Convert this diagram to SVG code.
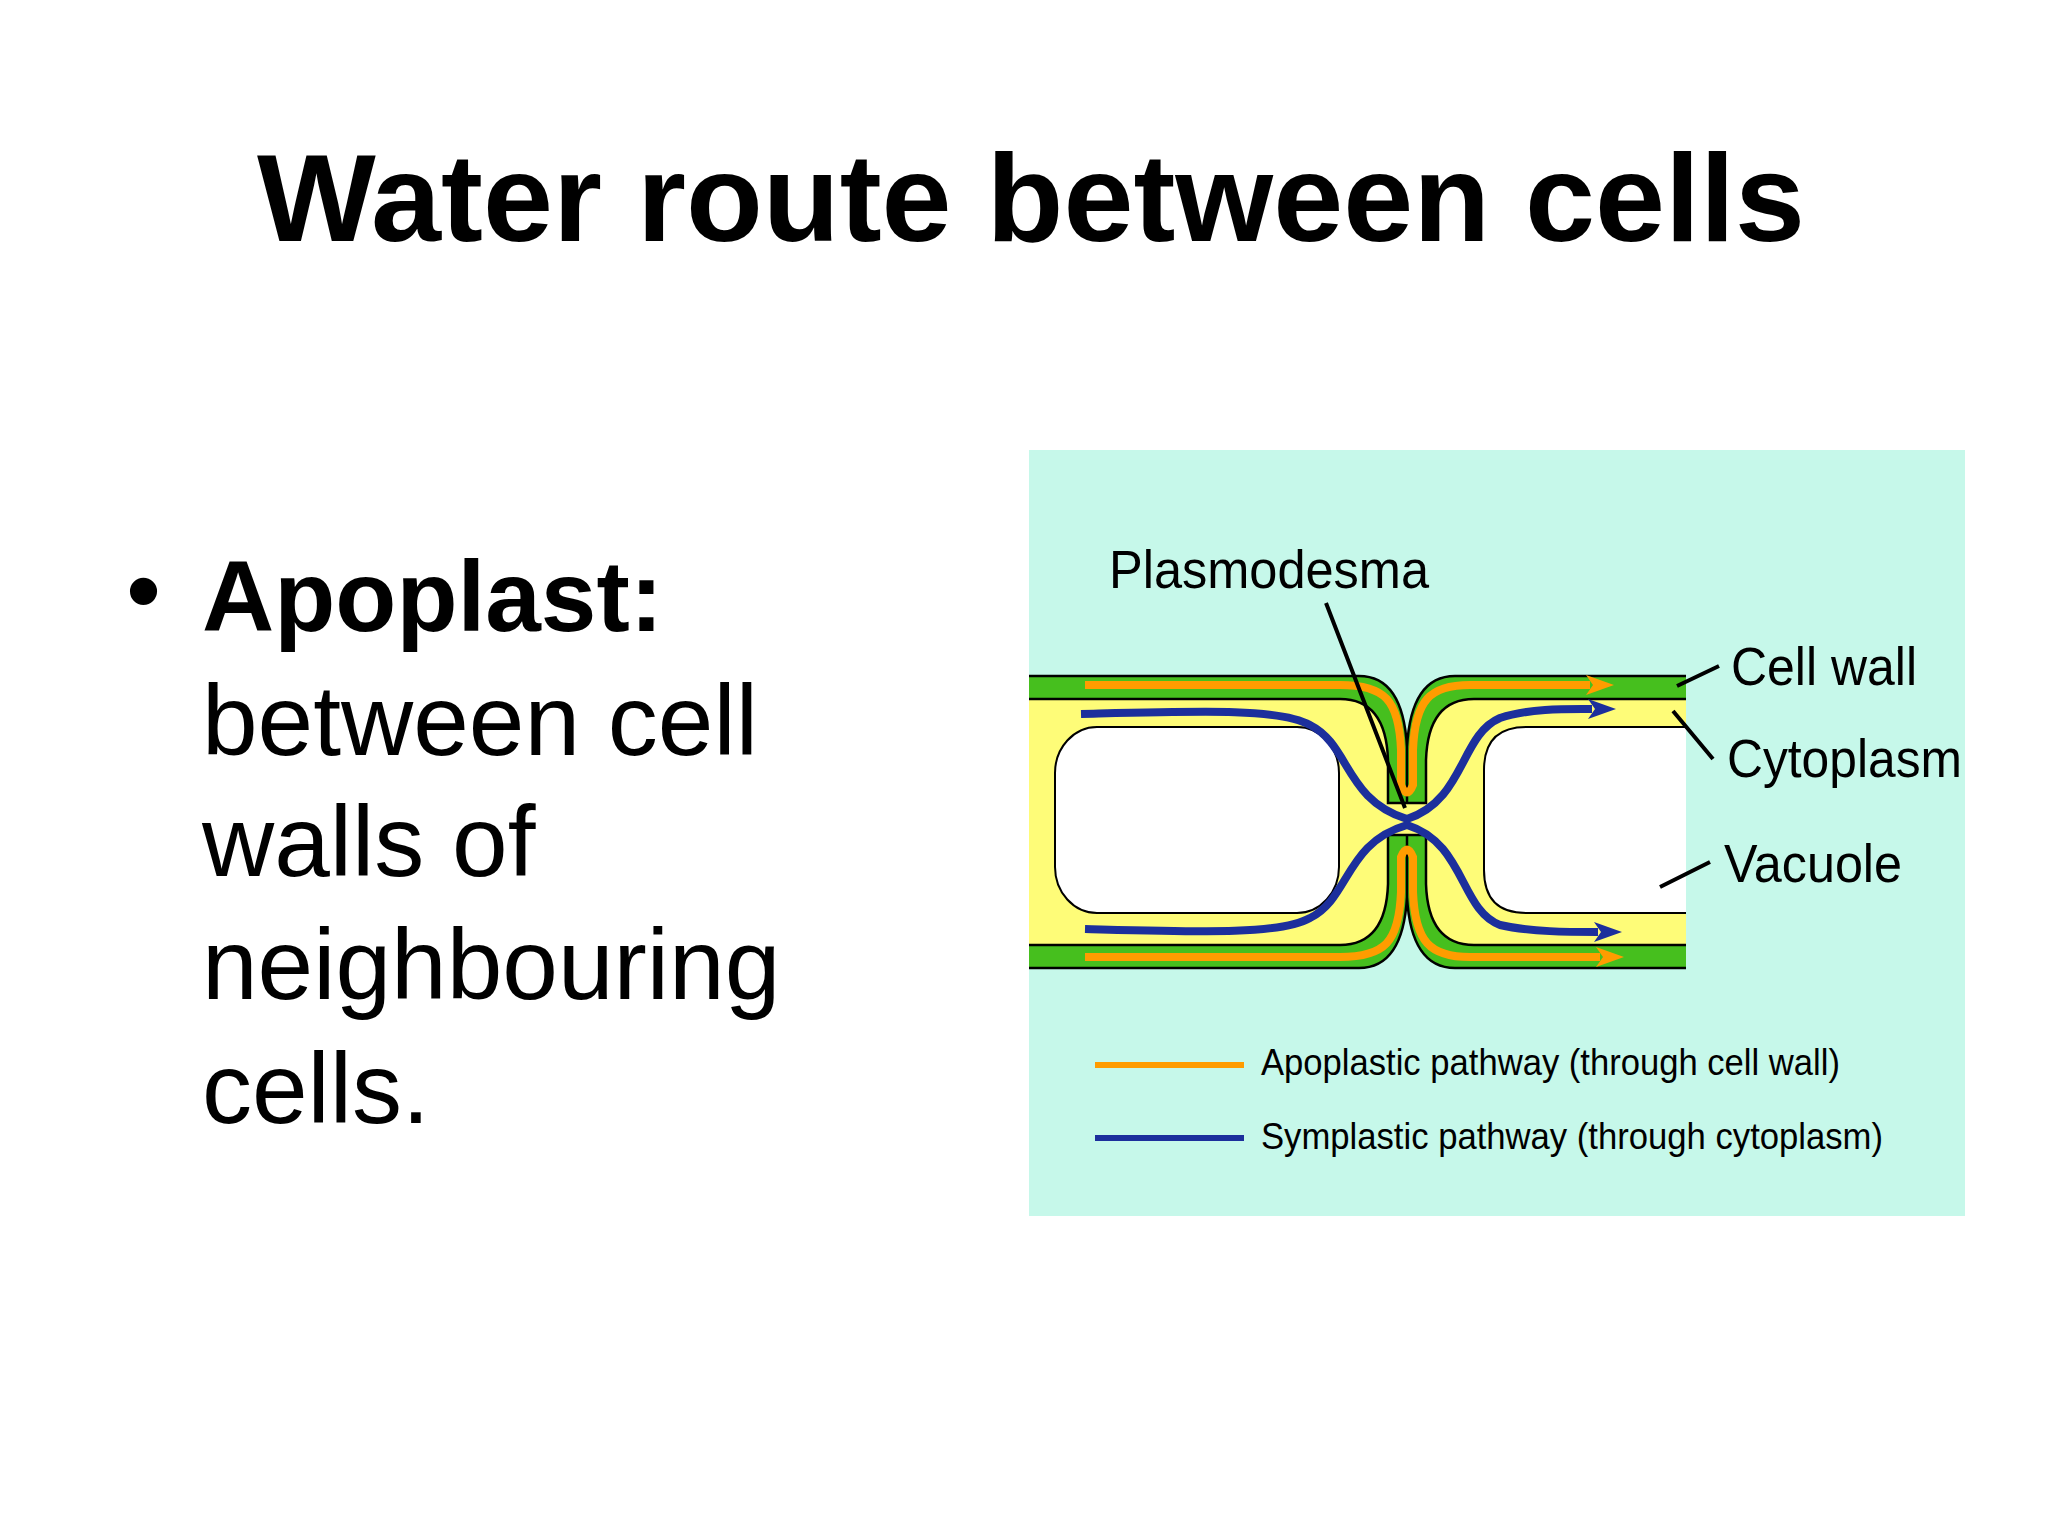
<svg xmlns="http://www.w3.org/2000/svg" width="2048" height="1536" viewBox="0 0 2048 1536">
<style>
.t{font-family:"Liberation Sans",Arial,sans-serif;fill:#000}
.ol{fill:none;stroke:#000;stroke-width:2.5}
.lab{fill:none;stroke:#000;stroke-width:4}
.or{fill:none;stroke:#ff9c00;stroke-width:8}
.bl{fill:none;stroke:#1c2f9c;stroke-width:8}
</style>
<defs>
<marker id="ao" markerUnits="userSpaceOnUse" markerWidth="30" markerHeight="30" refX="4" refY="12" orient="auto" viewBox="0 0 30 24"><path d="M0,2 L28,12 L0,22 L7,12 Z" fill="#ff9c00"/></marker>
<marker id="ab" markerUnits="userSpaceOnUse" markerWidth="30" markerHeight="30" refX="4" refY="12" orient="auto" viewBox="0 0 30 24"><path d="M0,2 L28,12 L0,22 L7,12 Z" fill="#1c2f9c"/></marker>
</defs>
<rect width="2048" height="1536" fill="#fff"/>
<text class="t" x="257" y="241" font-size="125" font-weight="bold" textLength="1548" lengthAdjust="spacingAndGlyphs">Water route between cells</text>
<g id="bullet">
<text class="t" x="126" y="625" font-size="100">•</text>
<text class="t" x="202" y="631" font-size="100" font-weight="bold">Apoplast:</text>
<text class="t" x="202" y="755" font-size="100">between cell</text>
<text class="t" x="202" y="876" font-size="100">walls of</text>
<text class="t" x="202" y="999" font-size="100">neighbouring</text>
<text class="t" x="202" y="1123" font-size="100">cells.</text>
</g>
<rect x="1029" y="450" width="936" height="766" fill="#c6f8ea"/>
<g id="cells">
<path d="M1029,676 H1359 Q1403,676 1407,747 V897 Q1403,968 1359,968 H1029 Z" fill="#46bf1e"/>
<path d="M1686,676 H1455 Q1411,676 1407,747 V897 Q1411,968 1455,968 H1686 Z" fill="#46bf1e"/>
<path d="M1029,699 H1340 Q1386,699 1388,760 V884 Q1386,945 1340,945 H1029 Z" fill="#fefc78"/>
<path d="M1686,699 H1474 Q1428,699 1426,760 V884 Q1428,945 1474,945 H1686 Z" fill="#fefc78"/>
<rect x="1386" y="803" width="42" height="32" fill="#fefc78"/>
<path class="ol" d="M1029,676 H1359 Q1403,676 1407,747 Q1411,676 1455,676 H1686"/>
<path class="ol" d="M1029,968 H1359 Q1403,968 1407,897 Q1411,968 1455,968 H1686"/>
<path class="ol" d="M1407,747 V803 M1407,835 V897"/>
<path class="ol" d="M1029,699 H1340 Q1386,699 1388,760 V803 H1426 V760 Q1428,699 1474,699 H1686"/>
<path class="ol" d="M1029,945 H1340 Q1386,945 1388,884 V835 H1426 V884 Q1428,945 1474,945 H1686"/>
<rect x="1055" y="727" width="284" height="186" rx="42" ry="46" fill="#fff" stroke="#000" stroke-width="2"/>
<path d="M1686,727 H1526 Q1484,727 1484,770 V870 Q1484,913 1526,913 H1686 Z" fill="#fff"/>
<path d="M1686,727 H1526 Q1484,727 1484,770 V870 Q1484,913 1526,913 H1686" fill="none" stroke="#000" stroke-width="2"/>
</g>
<g id="connectors">
<path class="or" marker-end="url(#ao)" d="M1085,685 H1340 C1385,685 1399,700 1401,750 V785 Q1407,800 1413,785 V750 C1415,700 1430,685 1470,685 H1590"/>
<path class="or" marker-end="url(#ao)" d="M1085,957 H1340 C1385,957 1399,942 1401,892 V857 Q1407,842 1413,857 V892 C1415,942 1430,957 1470,957 H1600"/>
<path class="bl" marker-end="url(#ab)" d="M1081,714 C1200,711 1280,708 1310,725 C1350,745 1345,800 1407,819 C1465,800 1460,735 1500,718 C1530,708 1570,709 1592,709"/>
<path class="bl" marker-end="url(#ab)" d="M1085,929 C1200,932 1280,935 1310,918 C1350,898 1345,843 1407,825 C1465,843 1460,910 1500,925 C1530,932 1570,932 1598,932"/>
<path class="lab" d="M1326,603 L1405,808 M1677,686 L1719,666 M1673,711 L1713,759 M1660,887 L1710,862"/>
</g>
<g id="labels">
<text class="t" x="1109" y="588" font-size="54" textLength="320" lengthAdjust="spacingAndGlyphs">Plasmodesma</text>
<text class="t" x="1731" y="685" font-size="54" textLength="186" lengthAdjust="spacingAndGlyphs">Cell wall</text>
<text class="t" x="1727" y="777" font-size="54" textLength="235" lengthAdjust="spacingAndGlyphs">Cytoplasm</text>
<text class="t" x="1724" y="882" font-size="54" textLength="178" lengthAdjust="spacingAndGlyphs">Vacuole</text>
</g>
<g id="legend">
<line x1="1095" y1="1065" x2="1244" y2="1065" stroke="#ff9c00" stroke-width="6"/>
<line x1="1095" y1="1138" x2="1244" y2="1138" stroke="#1c2f9c" stroke-width="6"/>
<text class="t" x="1261" y="1075" font-size="36" textLength="579" lengthAdjust="spacingAndGlyphs">Apoplastic pathway (through cell wall)</text>
<text class="t" x="1261" y="1149" font-size="36" textLength="622" lengthAdjust="spacingAndGlyphs">Symplastic pathway (through cytoplasm)</text>
</g>
</svg>
